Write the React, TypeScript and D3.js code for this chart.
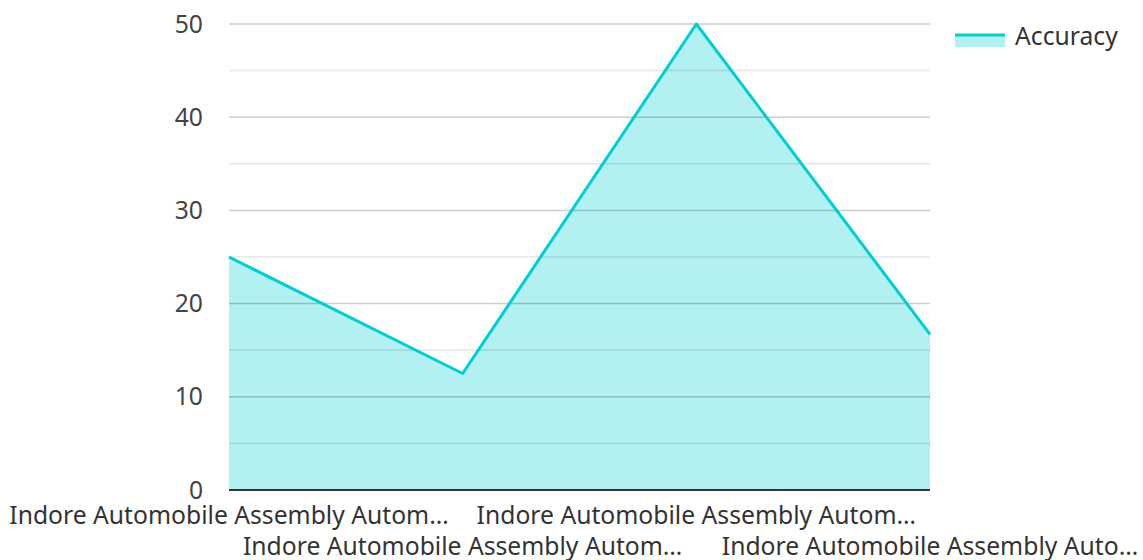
import React from "react";
import * as d3 from "d3";

const categories = [
  "Indore Automobile Assembly Autom…",
  "Indore Automobile Assembly Autom…",
  "Indore Automobile Assembly Autom…",
  "Indore Automobile Assembly Auto…",
];
const accuracy = [25, 12.5, 50, 16.7];
const majorTicks = [0, 10, 20, 30, 40, 50];
const minorTicks = [5, 15, 25, 35, 45];
const seriesName = "Accuracy";

const W = 1143;
const H = 560;
const margin = { left: 229, right: 213, top: 24, bottom: 70 };
const color = "#00ced1";
const font = "'Noto Sans', 'Open Sans', sans-serif";
const fs = 24.7;

export default function App() {
  const x = d3
    .scalePoint<number>()
    .domain(categories.map((_, i) => i))
    .range([margin.left, W - margin.right]);
  const y = d3
    .scaleLinear()
    .domain([0, 50])
    .range([H - margin.bottom, margin.top]);

  const pts = accuracy.map((v, i) => [x(i) as number, y(v)] as [number, number]);
  const area = d3
    .area<[number, number]>()
    .x((d) => d[0])
    .y0(y(0))
    .y1((d) => d[1]);
  const line = d3.line<[number, number]>().x((d) => d[0]).y((d) => d[1]);

  const x0 = margin.left;
  const x1 = W - margin.right;

  return (
    <svg
      width={W}
      height={H}
      style={{ position: "absolute", left: 0, top: 0, fontFamily: font }}
    >
      <path d={area(pts) || ""} fill={color} fillOpacity={0.3} />
      {minorTicks.map((t) => (
        <line key={"m" + t} x1={x0} x2={x1} y1={y(t)} y2={y(t)} stroke="#000" strokeOpacity={0.1} strokeWidth={1.5} />
      ))}
      {majorTicks.filter((t) => t !== 0).map((t) => (
        <line key={"g" + t} x1={x0} x2={x1} y1={y(t)} y2={y(t)} stroke="#000" strokeOpacity={0.2} strokeWidth={1.5} />
      ))}
      <path d={line(pts) || ""} fill="none" stroke={color} strokeWidth={3} strokeLinejoin="round" />
      <line x1={x0} x2={x1} y1={y(0)} y2={y(0)} stroke="#333" strokeWidth={2} />
      {majorTicks.map((t) => (
        <text key={"t" + t} x={203} y={y(t)} dy="0.35em" textAnchor="end" fontSize={fs} fill="#444">
          {t}
        </text>
      ))}
      {categories.map((c, i) => (
        <text
          key={"c" + i}
          x={x(i) as number}
          y={i % 2 === 0 ? 524 : 555}
          textAnchor="middle"
          fontSize={fs}
          fill="#333"
        >
          {c}
        </text>
      ))}
      <g>
        <rect x={955} y={35} width={50} height={12} fill={color} fillOpacity={0.3} />
        <line x1={955} x2={1005} y1={35} y2={35} stroke={color} strokeWidth={3} />
        <text x={1015} y={36} dy="0.35em" fontSize={fs} fill="#333">
          {seriesName}
        </text>
      </g>
    </svg>
  );
}
